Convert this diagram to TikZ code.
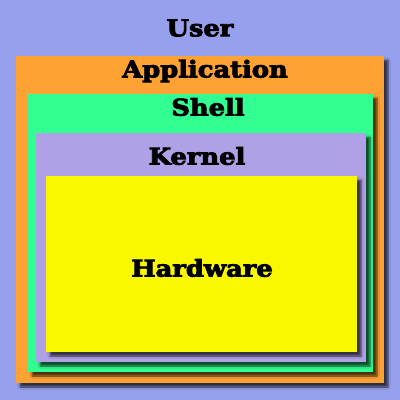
\documentclass[tikz,border=0pt]{standalone}
\usepackage{fontspec}
\setmainfont{DejaVu Serif}
\newfontfamily\heavyfont{DejaVu Serif Bold}[FakeBold=3.5]
\usetikzlibrary{shadows.blur}
\definecolor{bgc}{RGB}{150,160,236}
\definecolor{orangec}{RGB}{255,162,52}
\definecolor{greenc}{RGB}{50,255,145}
\definecolor{lavc}{RGB}{176,160,230}
\definecolor{yelc}{RGB}{248,248,0}
\begin{document}
\begin{tikzpicture}[x=1pt,y=-1pt,
  layer/.style={draw=none, blur shadow={shadow xshift=4pt, shadow yshift=-4pt, shadow blur steps=5, shadow blur extra rounding=0pt, shadow opacity=70}},
  lbl/.style={font=\heavyfont\fontsize{23}{25}\selectfont, text=black, inner sep=0pt, xscale=1.12}]
\fill[bgc] (0,0) rectangle (400,400);
\useasboundingbox (0,0) rectangle (400,400);
\path[layer, fill=orangec] (16,56) rectangle (384,383);
\path[layer, fill=greenc] (28,94) rectangle (373,372);
\path[layer, fill=lavc] (36,133) rectangle (366,362);
\path[layer, fill=yelc] (46,176) rectangle (357,352);
\node[lbl] (user) at (200,28) {User};
\node[lbl] (app) at (205,71) {Application};
\node[lbl] (shell) at (208,107) {Shell};
\node[lbl] (kernel) at (197,156) {Kernel};
\node[lbl] (hw) at (202,268) {Hardware};
\end{tikzpicture}
\end{document}
